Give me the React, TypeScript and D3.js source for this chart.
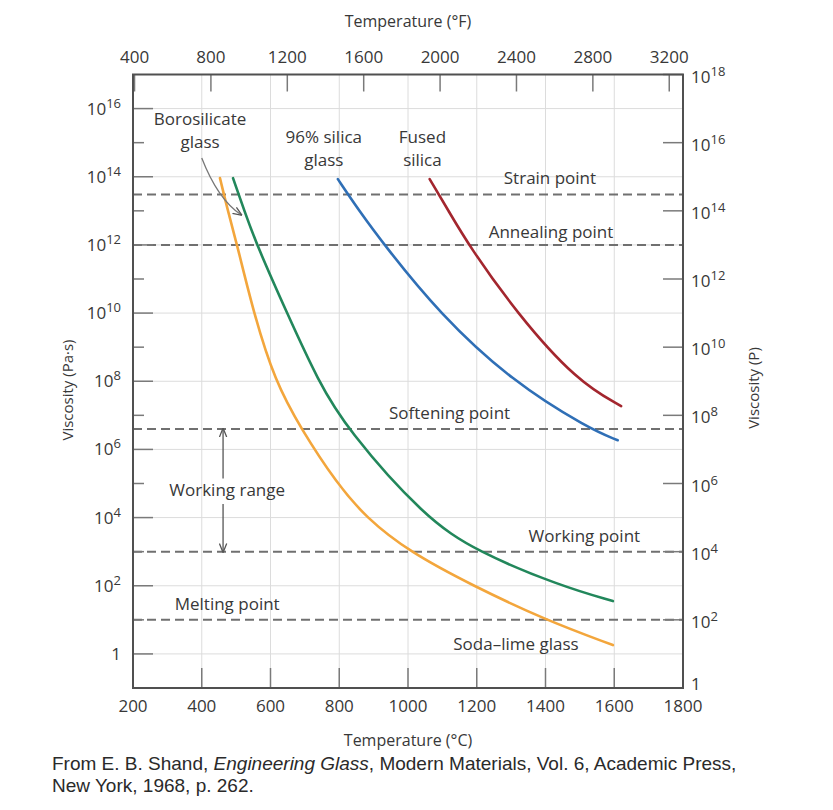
import React, { useRef, useEffect } from "react";
import * as d3 from "d3";

// axes
const tempC = [200, 400, 600, 800, 1000, 1200, 1400, 1600, 1800];
const tempF = [400, 800, 1200, 1600, 2000, 2400, 2800, 3200];
const paExp = [0, 2, 4, 6, 8, 10, 12, 14, 16];
const paMinorExp = [1, 3, 5, 7, 9, 11, 13, 15];
const pExp = [0, 2, 4, 6, 8, 10, 12, 14, 16, 18];

// curves: temperature (°C) and log10 viscosity (Pa·s)
const sodaLimeT = [453, 476, 503, 551, 613, 689, 793, 878, 1003, 1189, 1399, 1596];
const sodaLimeLog = [13.96, 13, 12, 10, 8, 6.6, 5, 4, 3, 2, 1, 0.26];
const boroT = [491, 524, 560, 648, 739, 822, 1049, 1201, 1442, 1596];
const boroLog = [13.96, 13, 12, 10, 8, 6.6, 4, 3, 2, 1.55];
const silica96T = [796, 858, 931, 1090, 1302, 1528, 1610];
const silica96Log = [13.93, 13, 12, 10, 8, 6.6, 6.27];
const fusedT = [1063, 1118, 1176, 1316, 1492, 1620];
const fusedLog = [13.93, 13, 12, 10, 8, 7.27];

// reference viscosity levels (Pa·s)
const levelNames = ["Strain point", "Annealing point", "Softening point", "Working point", "Melting point"];
const levelValues = [3e13, 1e12, 4e6, 1e3, 1e1];

const CURVE_COLORS = ["#f3a63c", "#22875b", "#2f6fb6", "#a3262e"];

export default function App() {
  const svgRef = useRef<SVGSVGElement | null>(null);

  useEffect(() => {
    const svg = svgRef.current;
    if (!svg) return;
    const sel = d3.select(svg);
    sel.selectAll("*").remove();

    const L = 133, R = 683, T = 74.5, B = 688;
    const font = "'Open Sans', sans-serif";
    const ink = "#383838";

    const x = d3.scaleLinear().domain([200, 1800]).range([L, R]);
    const xF = d3.scaleLinear().domain([200 * 1.8 + 32, 1800 * 1.8 + 32]).range([L, R]);
    const y = d3.scaleLog().domain([0.1, 1e17]).range([B, T]);
    const yP = d3.scaleLog().domain([1, 1e18]).range([B, T]);
    const yl = (v: number) => y(Math.pow(10, v));

    const defs = sel.append("defs");
    defs
      .append("marker")
      .attr("id", "ah")
      .attr("viewBox", "0 0 10 10")
      .attr("refX", 9)
      .attr("refY", 5)
      .attr("markerWidth", 7)
      .attr("markerHeight", 7)
      .attr("orient", "auto-start-reverse")
      .append("path")
      .attr("d", "M0,1 L10,5 L0,9")
      .attr("fill", "none")
      .attr("stroke", "#555")
      .attr("stroke-width", 1.4);

    // grid
    const grid = sel.append("g").attr("stroke", "#dcdcdc").attr("stroke-width", 1);
    grid
      .selectAll("line.v")
      .data(tempC.slice(1, -1))
      .enter()
      .append("line")
      .attr("x1", (d) => x(d))
      .attr("x2", (d) => x(d))
      .attr("y1", T)
      .attr("y2", B);
    grid
      .selectAll("line.h")
      .data(paExp)
      .enter()
      .append("line")
      .attr("x1", L)
      .attr("x2", R)
      .attr("y1", (d) => y(Math.pow(10, d)))
      .attr("y2", (d) => y(Math.pow(10, d)));

    // dashed reference levels
    sel
      .append("g")
      .selectAll("line")
      .data(levelValues)
      .enter()
      .append("line")
      .attr("x1", L)
      .attr("x2", R)
      .attr("y1", (d) => y(d))
      .attr("y2", (d) => y(d))
      .attr("stroke", "#707070")
      .attr("stroke-width", 2)
      .attr("stroke-dasharray", "9,5");

    // ticks
    const tk = sel.append("g").attr("stroke", "#7a7a7a").attr("stroke-width", 1.5);
    tempF.forEach((f) => {
      tk.append("line").attr("x1", xF(f)).attr("x2", xF(f)).attr("y1", T).attr("y2", T + 17);
    });
    tempC.forEach((c) => {
      tk.append("line").attr("x1", x(c)).attr("x2", x(c)).attr("y1", B).attr("y2", B - 20);
    });
    paExp.forEach((e) => {
      tk.append("line").attr("x1", L).attr("x2", L + 20).attr("y1", yl(e)).attr("y2", yl(e));
    });
    paMinorExp.forEach((e) => {
      tk.append("line").attr("x1", L).attr("x2", L + 11).attr("y1", yl(e)).attr("y2", yl(e));
    });
    pExp.forEach((e) => {
      const yy = yP(Math.pow(10, e));
      tk.append("line").attr("x1", R - 20).attr("x2", R).attr("y1", yy).attr("y2", yy);
    });

    // curves
    const series = [
      [sodaLimeT, sodaLimeLog],
      [boroT, boroLog],
      [silica96T, silica96Log],
      [fusedT, fusedLog],
    ];
    const line = d3
      .line<[number, number]>()
      .x((d) => x(d[0]))
      .y((d) => yl(d[1]))
      .curve(d3.curveBasis);
    series.forEach(([ts, ls], i) => {
      const pts = ts.map((t, j) => [t, ls[j]] as [number, number]);
      sel
        .append("path")
        .attr("d", line(pts))
        .attr("fill", "none")
        .attr("stroke", CURVE_COLORS[i])
        .attr("stroke-width", 2.6)
        .attr("stroke-linecap", "round");
    });

    // frame
    sel
      .append("rect")
      .attr("x", L)
      .attr("y", T)
      .attr("width", R - L)
      .attr("height", B - T)
      .attr("fill", "none")
      .attr("stroke", "#505050")
      .attr("stroke-width", 2);

    const text = (px: number, py: number, s: string, anchor = "middle", size = 17) =>
      sel
        .append("text")
        .attr("x", px)
        .attr("y", py)
        .attr("text-anchor", anchor)
        .attr("font-family", font)
        .attr("font-size", size)
        .attr("fill", ink)
        .text(s);

    const powLabel = (px: number, py: number, e: number, anchor: string) => {
      const t = sel
        .append("text")
        .attr("x", px)
        .attr("y", py)
        .attr("text-anchor", anchor)
        .attr("font-family", font)
        .attr("font-size", 17)
        .attr("fill", ink);
      if (e === 0) {
        t.text("1");
        return;
      }
      t.append("tspan").text("10");
      t.append("tspan").attr("dy", -7).attr("font-size", 13).text(String(e));
    };

    // tick labels
    tempC.forEach((c) => text(x(c), B + 24, String(c)));
    tempF.forEach((f) => text(xF(f), T - 12, String(f)));
    paExp.forEach((e) => powLabel(L - 12, yl(e) + 6, e, "end"));
    pExp.forEach((e) => powLabel(R + 8, yP(Math.pow(10, e)) + (e === 0 ? 2 : 8), e, "start"));

    // axis titles
    text((L + R) / 2, 27, "Temperature (°F)", "middle", 16);
    text((L + R) / 2, 746, "Temperature (°C)", "middle", 16);
    text(0, 0, "Viscosity (Pa·s)", "middle", 15).attr("transform", `translate(73,390) rotate(-90)`);
    text(0, 0, "Viscosity (P)", "middle", 15).attr("transform", `translate(759,388) rotate(-90)`);

    // level labels
    const lab = (c: number, lg: number, s: string) => text(x(c), yl(lg), s);
    lab(1413, 13.79, levelNames[0]);
    lab(1416, 12.2, levelNames[1]);
    lab(1121, 6.89, levelNames[2]);
    lab(1513, 3.28, levelNames[3]);
    lab(474, 1.28, levelNames[4]);

    // curve labels
    lab(395, 15.52, "Borosilicate");
    lab(395, 14.84, "glass");
    lab(755, 14.99, "96% silica");
    lab(755, 14.32, "glass");
    lab(1042, 14.99, "Fused");
    lab(1042, 14.32, "silica");
    lab(1314, 0.11, "Soda–lime glass");

    // working range
    lab(474, 4.63, "Working range");
    const wx = x(462);
    sel
      .append("line")
      .attr("x1", wx)
      .attr("x2", wx)
      .attr("y1", yl(5.15))
      .attr("y2", y(4e6))
      .attr("stroke", "#555")
      .attr("stroke-width", 1.3)
      .attr("marker-end", "url(#ah)");
    sel
      .append("line")
      .attr("x1", wx)
      .attr("x2", wx)
      .attr("y1", yl(4.4))
      .attr("y2", y(1e3))
      .attr("stroke", "#555")
      .attr("stroke-width", 1.3)
      .attr("marker-end", "url(#ah)");

    // borosilicate leader
    const lp = d3.path();
    lp.moveTo(x(400), yl(14.55));
    lp.quadraticCurveTo(x(447), yl(13.33), x(515), yl(12.88));
    sel
      .append("path")
      .attr("d", lp.toString())
      .attr("fill", "none")
      .attr("stroke", "#777")
      .attr("stroke-width", 1.3)
      .attr("marker-end", "url(#ah)");

    // source note
    const nf = "'Liberation Sans', Arial, sans-serif";
    const note = sel
      .append("text")
      .attr("x", 52)
      .attr("y", 770)
      .attr("font-family", nf)
      .attr("font-size", 19)
      .attr("fill", "#2a2a2a");
    note.append("tspan").text("From E. B. Shand, ");
    note.append("tspan").attr("font-style", "italic").text("Engineering Glass");
    note.append("tspan").text(", Modern Materials, Vol. 6, Academic Press,");
    sel
      .append("text")
      .attr("x", 52)
      .attr("y", 792)
      .attr("font-family", nf)
      .attr("font-size", 19)
      .attr("fill", "#2a2a2a")
      .text("New York, 1968, p. 262.");
  }, []);

  return (
    <svg
      ref={svgRef}
      width={833}
      height={810}
      style={{ position: "absolute", left: 0, top: 0, background: "#fff" }}
    />
  );
}
